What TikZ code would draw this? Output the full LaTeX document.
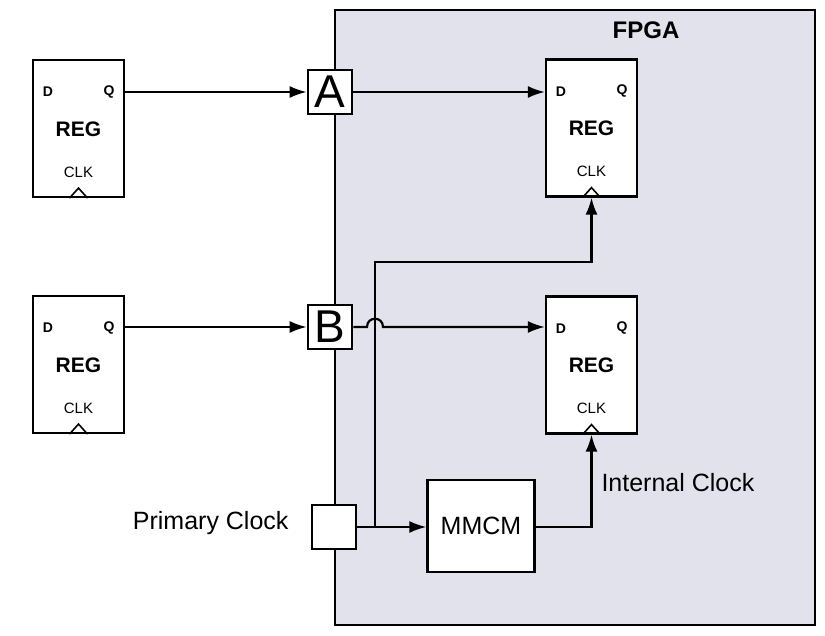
\documentclass[tikz,border=0pt]{standalone}
\usepackage{fontspec}
\setmainfont{Liberation Sans}
\usetikzlibrary{arrows.meta}
\definecolor{fpgafill}{RGB}{226,226,236}
\tikzset{
  reg/.style={draw, line width=2.2pt, fill=white, minimum width=91pt, minimum height=137pt, inner sep=0pt},
  pad/.style={draw, line width=2.6pt, fill=white, minimum size=44pt, inner sep=0pt, font=\fontsize{46}{46}\selectfont},
  wire/.style={line width=2.2pt},
  sig/.style={wire, -{Latex[length=17pt,width=12pt]}},
  lbl/.style={font=\fontsize{25}{25}\selectfont}
}
\newcommand{\regbox}[3]{%
  \node [reg] (#1) at (#2,#3) {};
  \node [font=\bfseries\fontsize{14}{14}\selectfont] (#1d) at ([xshift=16pt,yshift=-33pt]#1.north west) {D};
  \node [font=\bfseries\fontsize{14}{14}\selectfont] (#1q) at ([xshift=-16pt,yshift=-33pt]#1.north east) {Q};
  \node [font=\bfseries\fontsize{21}{21}\selectfont] (#1n) at ([yshift=-70pt]#1.north) {REG};
  \node [font=\fontsize{15}{15}\selectfont] (#1c) at ([yshift=26pt]#1.south) {CLK};
  \draw [line width=1.6pt] ([xshift=-9pt]#1.south) -- ([yshift=10pt]#1.south) -- ([xshift=9pt]#1.south);
}
\begin{document}
\begin{tikzpicture}[x=1pt, y=-1pt]
\useasboundingbox (0,0) rectangle (825,636);
% FPGA area
\draw [fill=fpgafill, line width=1.6pt] (335,10) rectangle (815,625);
\node [font=\bfseries\fontsize{24}{24}\selectfont] (fpga) at (646,30) {FPGA};
% registers
\regbox{srca}{78.5}{128.5}
\regbox{srcb}{78.5}{364.5}
\regbox{dsta}{591.5}{128}
\regbox{dstb}{591.5}{365}
% pads
\node [pad] (pa) at (330,92) {A};
\node [pad] (pb) at (330,327) {B};
\node [pad] (pclk) at (334,527) {};
\node [draw, line width=2.2pt, fill=white, minimum width=107pt, minimum height=92pt] (mmcm) at (481,526) {\fontsize{25}{25}\selectfont MMCM};
\node [lbl, anchor=east] (plbl) at (292,523) {Primary Clock};
\node [lbl, anchor=west] (ilbl) at (598,483) {Internal Clock};
% data paths
\draw [sig] (srca.east |- pa) -- (pa.west);
\draw [sig] (pa.east) -- (dsta.west |- pa);
\draw [sig] (srcb.east |- pb) -- (pb.west);
\draw [sig] (pb.east) -- (367,327) .. controls (367,316) and (383,316) .. (383,327) -- (dstb.west |- pb);
% clocks
\coordinate (split) at (375,527);
\draw [wire] (pclk.east |- split) -- (split);
\draw [sig] (split) -- (375,262) -| (dsta.south);
\draw [sig] (split) -- (mmcm.west |- split);
\draw [sig] (mmcm.east |- split) -| (dstb.south);
\end{tikzpicture}
\end{document}
